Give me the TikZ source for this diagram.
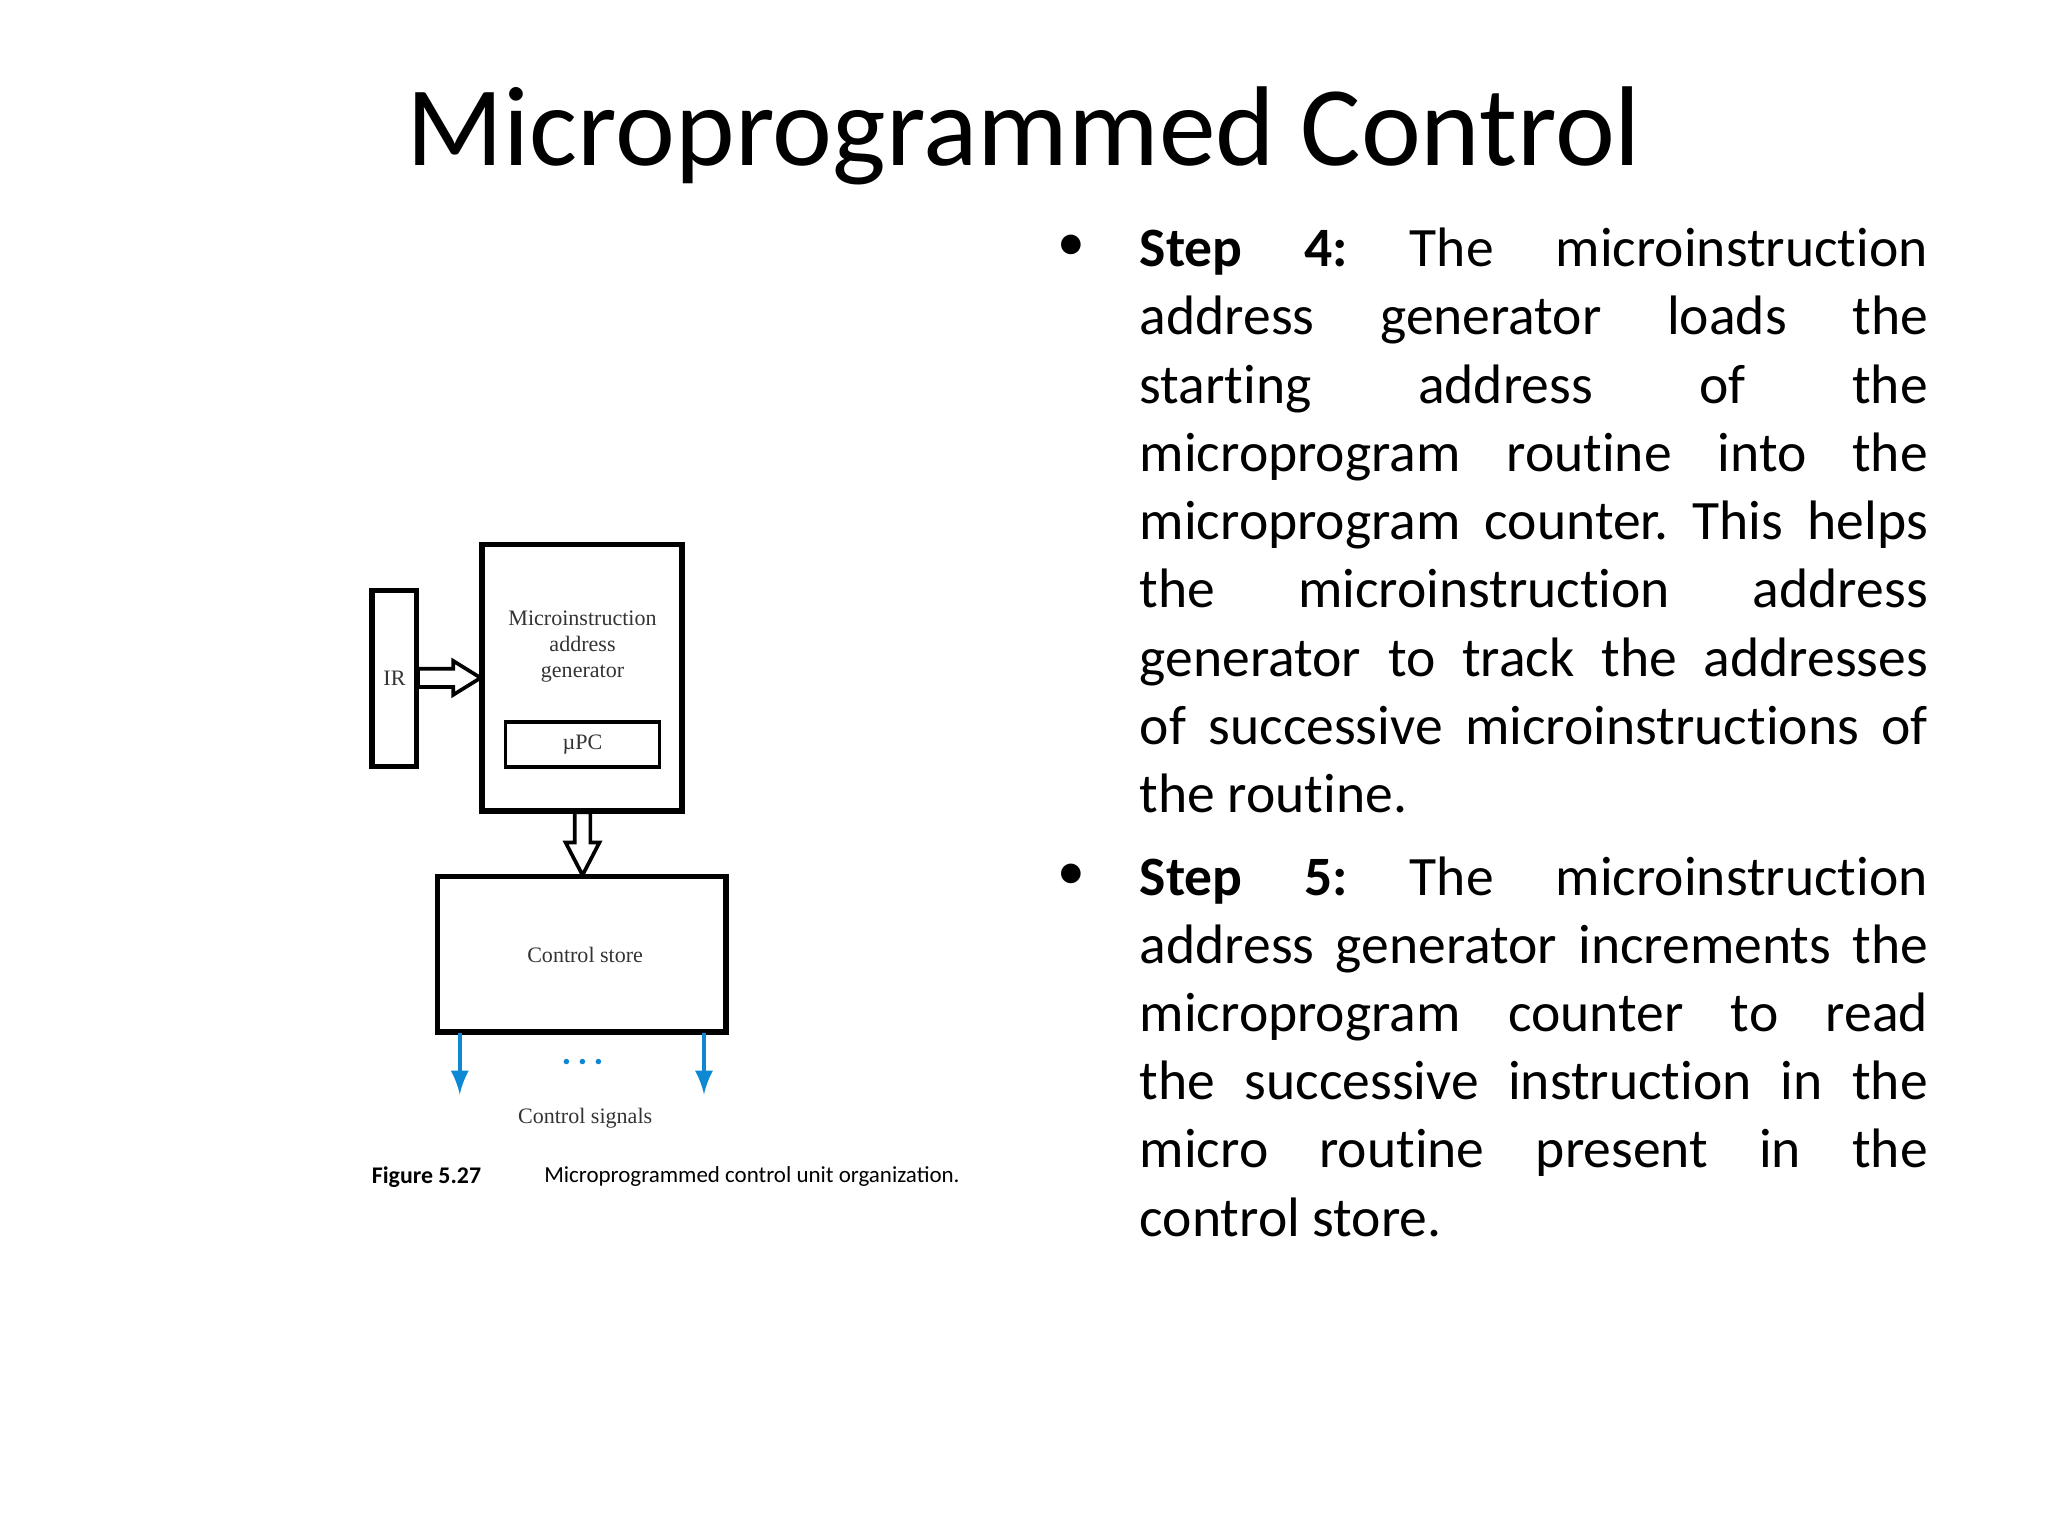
\documentclass[tikz,border=0pt]{standalone}
\usepackage{fontspec}
\setmainfont[Ligatures=NoCommon]{Carlito}
\newfontfamily\diagfont{Liberation Serif}
\newfontfamily\capfont{Carlito}
\hyphenpenalty=10000
\exhyphenpenalty=10000
\frenchspacing
\begin{document}
\begin{tikzpicture}[x=0.01cm,y=-0.01cm,
  blk/.style={draw,line width=1.2pt},
  lbl/.style={font=\diagfont\fontsize{4.8}{5.6}\selectfont,align=center,text=black!80},
  hollow/.style={draw,line width=0.8pt,fill=white},
  sig/.style={draw=cyan!70!blue,line width=0.8pt,-latex},
  body/.style={anchor=north west,text width=6.03cm,align=justify,inner sep=0pt,font=\fontsize{12.1}{14.85}\selectfont}]
\useasboundingbox (0,0) rectangle (1568,1176);
\node[font=\fontsize{24.7}{28}\selectfont] (title) at (784,104) {Microprogrammed Control};
% diagram
\draw[blk] (285,452) rectangle (319,587);
\node[lbl] (irl) at (302,519) {IR};
\draw[blk] (369,417) rectangle (522,621);
\node[lbl] (magl) at (446,495) {Microinstruction\\address\\generator};
\draw[line width=0.8pt] (387,553) rectangle (505,587);
\node[lbl] (upc) at (446,570) {µPC};
\draw[blk] (335,671) rectangle (556,790);
\node[lbl] (cs) at (448,731) {Control store};
% hollow arrows
\draw[hollow] (320,512)--(347,512)--(347,506)--(368,519)--(347,532)--(347,526)--(320,526)--cycle;
\draw[hollow] (440,622)--(440,645)--(433,645)--(446,670)--(459,645)--(452,645)--(452,622)--cycle;
\coordinate (s1) at (352,791); \coordinate (s1e) at (352,838);
\coordinate (s2) at (539,791); \coordinate (s2e) at (539,838);
\draw[sig] (s1)--(s1e);
\draw[sig] (s2)--(s2e);
\node[font=\bfseries\fontsize{8}{8}\selectfont,text=cyan!70!blue] (dots) at (446,813) {.\,.\,.};
\node[lbl] (csig) at (448,856) {Control signals};
\node[font=\capfont\bfseries\fontsize{5.2}{6}\selectfont,anchor=west,inner sep=0pt] (fig) at (284,901) {Figure 5.27};
\node[font=\capfont\fontsize{5.0}{6}\selectfont,anchor=west,inner sep=0pt] (cap) at (416,901) {Microprogrammed control unit organization.};
% text
\node[body] (t1) at (872,174)
{\textbf{Step 4:} The microinstruction address generator loads the\linebreak starting address of the microprogram routine into the microprogram counter. This helps the microinstruction address generator to track the addresses\linebreak of successive microinstructions of\linebreak the routine.};
\node[body] (t2) at (872,655)
{\textbf{Step 5:} The microinstruction address generator increments the microprogram counter to read the successive instruction in the\linebreak micro routine present in the\linebreak control store.};
\node[font=\fontsize{12.1}{14.85}\selectfont] (b1) at (820,190) {\textbullet};
\node[font=\fontsize{12.1}{14.85}\selectfont] (b2) at (820,671) {\textbullet};
\end{tikzpicture}
\end{document}
